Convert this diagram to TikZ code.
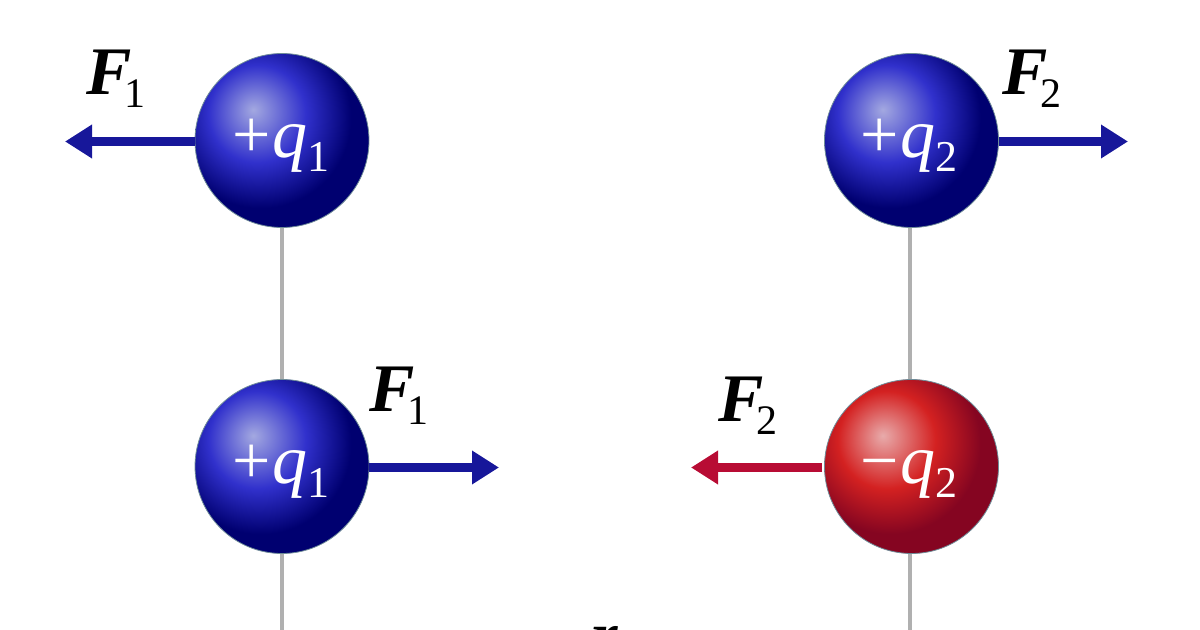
\documentclass[tikz,border=0pt]{standalone}
\usepackage{fontspec}
\setmainfont{Liberation Serif}
\usetikzlibrary{arrows.meta}

\definecolor{forceblue}{HTML}{17179A}
\definecolor{forcered}{HTML}{B80C34}
\definecolor{rodgray}{HTML}{B0B0B0}
\definecolor{rimgray}{HTML}{6F8C98}

\pgfdeclareradialshading{bluesphere}{\pgfpoint{-8.3bp}{8.9bp}}{%
  rgb(0bp)=(0.64,0.66,0.88);
  rgb(14bp)=(0.19,0.19,0.80);
  rgb(26bp)=(0,0,0.44);
  rgb(100bp)=(0,0,0.44)}
\pgfdeclareradialshading{redsphere}{\pgfpoint{-8.3bp}{8.9bp}}{%
  rgb(0bp)=(0.91,0.67,0.67);
  rgb(14bp)=(0.83,0.13,0.13);
  rgb(26bp)=(0.52,0.02,0.13);
  rgb(100bp)=(0.52,0.02,0.13)}

\newcommand{\chargelabel}[3]{{\fontsize{34}{34}\selectfont #1}\kern0.5pt{\fontsize{35}{35}\selectfont\itshape #2}\raisebox{-7pt}{\fontsize{22}{22}\selectfont #3}}
\newcommand{\forcelabel}[1]{{\fontsize{34}{34}\selectfont\bfseries\itshape F}\kern-4pt\raisebox{-6.5pt}{\fontsize{21}{21}\selectfont #1}}

\begin{document}
\begin{tikzpicture}[x=0.5pt, y=-0.5pt, >={Triangle[length=13.5pt,width=16pt]},
   sphere/.style={circle, minimum size=87pt, inner sep=0pt, draw=rimgray, line width=0.4pt},
   blue sphere/.style={sphere, shading=bluesphere},
   red sphere/.style={sphere, shading=redsphere},
   charge/.style={text=white, inner sep=0pt, anchor=base},
   rod/.style={rodgray, line width=1.9pt},
   force/.style={->, line width=4.3pt, color=#1},
   forcename/.style={inner sep=0pt, anchor=base}]
   \useasboundingbox (0,0) rectangle (1200,630);
   % rods
   \coordinate (bottomleft) at (282,630);
   \coordinate (bottomright) at (910,630);
   \node (p1) at (282,140.5) [blue sphere] {};
   \node (p2) at (911.5,140.5) [blue sphere] {};
   \node (p3) at (282,466.5) [blue sphere] {};
   \node (p4) at (911.5,466.5) [red sphere] {};
   \draw[rod] (p1.south) -- (p3.north);
   \draw[rod] (p3.south) -- (bottomleft);
   \draw[rod] (p2.south -| bottomright) -- (p4.north -| bottomright);
   \draw[rod] (p4.south -| bottomright) -- (bottomright);
   % charges
   \node (c1) at (281,158) [charge] {\chargelabel{+}{q}{1}};
   \node (c2) at (909,158) [charge] {\chargelabel{+}{q}{2}};
   \node (c3) at (281,484) [charge] {\chargelabel{+}{q}{1}};
   \node (c4) at (909,484) [charge] {\chargelabel{−}{q}{2}};
   % forces
   \coordinate (tip1) at (65,141.5);
   \coordinate (tip2) at (1128,141.5);
   \coordinate (tip3) at (499,467.5);
   \coordinate (tip4) at (691,467.5);
   \draw[force=forceblue] (p1.west |- tip1) -- (tip1);
   \draw[force=forceblue] (p2.east |- tip2) -- (tip2);
   \draw[force=forceblue] (p3.east |- tip3) -- (tip3);
   \draw[force=forcered, shorten <=1pt] (p4.west |- tip4) -- (tip4);
   \node (f1) at (116,95) [forcename] {\forcelabel{1}};
   \node (f2) at (1032,95) [forcename] {\forcelabel{2}};
   \node (f3) at (399,412) [forcename] {\forcelabel{1}};
   \node (f4) at (748,422) [forcename] {\forcelabel{2}};
   \node (dist) at (605,658) [forcename] {\fontsize{34}{34}\selectfont\bfseries\itshape r};
\end{tikzpicture}
\end{document}
